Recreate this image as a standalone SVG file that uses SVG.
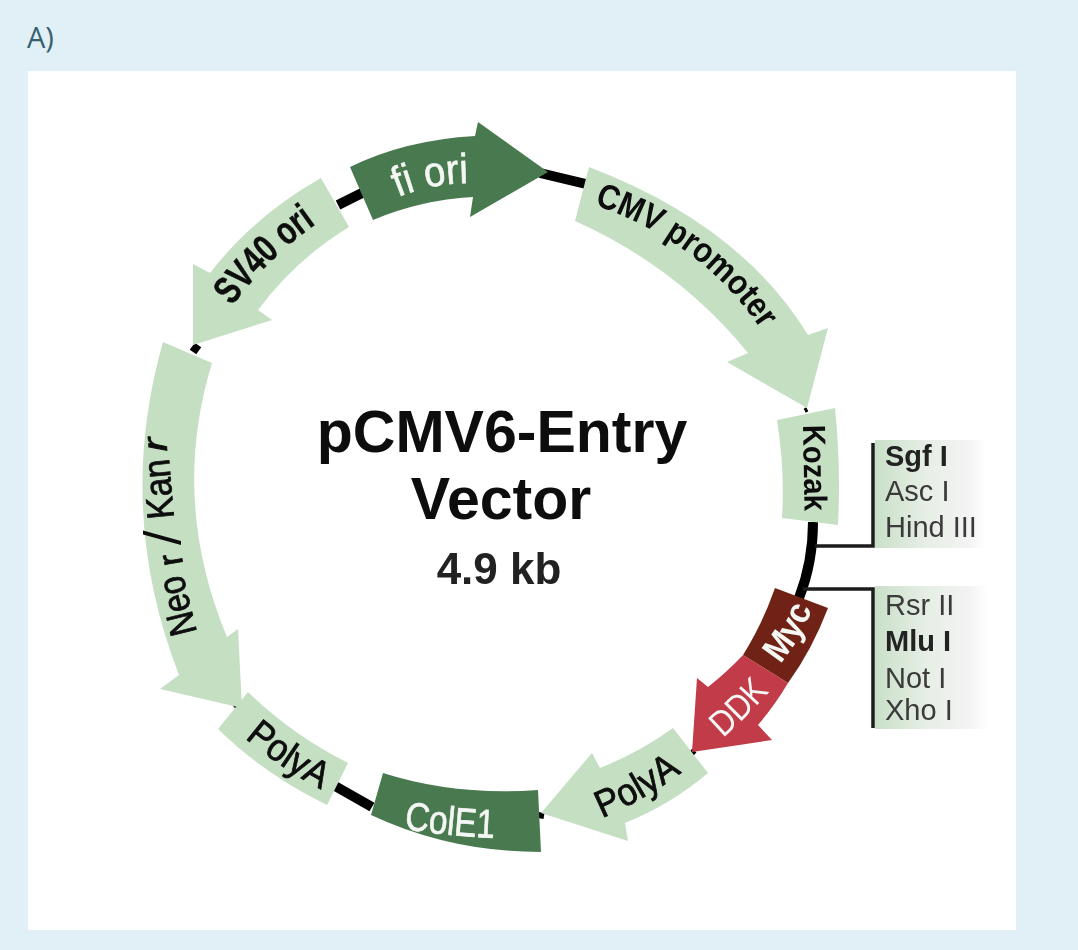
<svg xmlns="http://www.w3.org/2000/svg" width="1078" height="950" viewBox="0 0 1078 950">
<style>
text{font-family:"Liberation Sans",Arial,sans-serif}
.lg{fill:#c5dfc3}
.dg{fill:#4a7a50}
.k{fill:#0d0d0d;font-weight:700;stroke:none}
.t{fill:#0d0d0d;stroke:#0d0d0d;stroke-width:.8}
.w{fill:#f4f7f4;font-weight:700}
.e{font-size:29px;fill:#3a3a3a}
.b{font-weight:700;fill:#222}
.s{stroke:#1c1c1c;stroke-width:3.5;fill:none}
</style>
<defs>
<linearGradient id="fade"><stop offset="0" stop-color="#c9e0c8"/><stop offset=".45" stop-color="#e6eee5"/><stop offset=".85" stop-color="#f3f4f3"/><stop offset="1" stop-color="#fff"/></linearGradient>
<filter id="soft" x="-2%" y="-2%" width="104%" height="104%"><feGaussianBlur stdDeviation="0.6"/></filter>
<path id="pFi" d="M398,197 Q432,183 470,183"/>
<path id="pSv" d="M232,306 Q270,255 322,220"/>
<path id="pCmv" d="M594,205 Q705,242 766,337"/>
<path id="pPr" d="M602,818 Q645,800 682,772"/>
<path id="pCo" d="M404,829 Q448,836 495,838"/>
<path id="pPl" d="M245,738 Q280,768 322,790"/>
<path id="pMyc" d="M780,664 Q798,642 809,617"/>
<path id="pDdk" d="M723,738 Q748,716 771,690"/>
</defs>
<rect width="1078" height="950" fill="#e1f0f6"/>
<rect x="28" y="71" width="988" height="859" fill="#fff"/>
<text x="27" y="48" style="font-family:'Open Sans',sans-serif" font-size="29" fill="#35606f">A)</text>
<g filter="url(#soft)">
<g id="connectors" fill="none" stroke="#000">
<path d="M338,205 L362,193" stroke-width="10"/>
<path d="M540,173 L586,184" stroke-width="10"/>
<path d="M193,352 L198,345" stroke-width="8"/>
<path d="M335,786 L372,807" stroke-width="10"/>
<path d="M813,522 Q813,562 799,598" stroke-width="10"/>
<path d="M805,408 L807,412" stroke-width="3"/>
<path d="M538,815 L544,816" stroke-width="6"/>
<path d="M691,750 L695,754" stroke-width="4"/>
<path d="M234,704 L240,711" stroke-width="4"/>
<path class="s" d="M815,546 H873 V443"/>
<path class="s" d="M803,589 H873 V728"/>
</g>
<g id="site-panel-1">
<rect x="875" y="440" width="111" height="108" fill="url(#fade)"/>
<text class="e b" x="885" y="466">Sgf I</text>
<text class="e" x="885" y="501">Asc I</text>
<text class="e" x="885" y="537">Hind III</text>
</g>
<g id="site-panel-2">
<rect x="875" y="586" width="113" height="143" fill="url(#fade)"/>
<text class="e" x="885" y="615">Rsr II</text>
<text class="e b" x="885" y="651">Mlu I</text>
<text class="e" x="885" y="688">Not I</text>
<text class="e" x="885" y="720">Xho I</text>
</g>
<g id="fi-ori"><path class="dg" d="M350,167 Q405,140 475,136 L478,122 L548,172 L470,217 L473,197 Q420,200 373,220 Z"/>
<text class="w" font-size="42" style="font-weight:400;stroke:#f4f7f4;stroke-width:.7"><textPath href="#pFi" textLength="72" lengthAdjust="spacingAndGlyphs">fi ori</textPath></text></g>
<g id="sv40-ori"><path class="lg" d="M321,178 Q255,215 210,273 L193,264 L193,345 L272,320 L258,310 Q295,260 349,227 Z"/>
<text class="k" font-size="39" style="stroke:#0d0d0d;stroke-width:.5"><textPath href="#pSv" textLength="118" lengthAdjust="spacingAndGlyphs">SV40 ori</textPath></text></g>
<g id="cmv-promoter"><path class="lg" d="M589,167 Q741,225 808,335 L828,328 L807,408 L727,362 L748,353 Q678,267 575,221 Z"/>
<text class="k" font-size="35"><textPath href="#pCmv" textLength="212" lengthAdjust="spacingAndGlyphs">CMV promoter</textPath></text></g>
<g id="kozak"><path class="lg" d="M777,420 L835,408 Q841,467 838,525 L782,518 Q785,470 777,420 Z"/>
<text class="k" font-size="32" transform="translate(803,425) rotate(89)" textLength="86" lengthAdjust="spacingAndGlyphs">Kozak</text></g>
<g id="myc"><path fill="#6f2413" d="M775,588 L828,608 Q812,650 788,683 L743,655 Q762,625 775,588 Z"/>
<text class="w" font-size="36"><textPath href="#pMyc" textLength="64" lengthAdjust="spacingAndGlyphs">Myc</textPath></text></g>
<g id="ddk"><path fill="#c23a48" d="M743,655 L788,683 Q775,705 758,725 L772,740 L692,752 L697,678 L708,687 Q727,672 743,655 Z"/>
<text class="w" font-size="36" style="font-weight:400"><textPath href="#pDdk" textLength="66" lengthAdjust="spacingAndGlyphs">DDK</textPath></text></g>
<g id="polya-right"><path class="lg" d="M673,728 L708,773 Q670,805 625,823 L628,841 L541,813 L592,753 L600,768 Q640,752 673,728 Z"/>
<text class="t" font-size="38"><textPath href="#pPr" textLength="92" lengthAdjust="spacingAndGlyphs">PolyA</textPath></text></g>
<g id="cole1"><path class="dg" d="M383,773 Q455,796 538,790 L541,852 Q450,852 371,815 Z"/>
<text class="w" font-size="40" style="font-weight:400;stroke:#f4f7f4;stroke-width:.7"><textPath href="#pCo" textLength="91" lengthAdjust="spacingAndGlyphs">ColE1</textPath></text></g>
<g id="polya-left"><path class="lg" d="M248,692 Q292,735 348,763 L327,805 Q265,775 218,729 Z"/>
<text class="t" font-size="38"><textPath href="#pPl" textLength="92" lengthAdjust="spacingAndGlyphs">PolyA</textPath></text></g>
<g id="neo-kan"><path class="lg" d="M163,342 Q115,510 179,675 L160,689 L242,708 L238,629 L227,637 Q170,500 212,363 Z"/>
<text class="t" font-size="38" transform="translate(197,632) rotate(-104)" textLength="60" lengthAdjust="spacingAndGlyphs">Neo</text>
<text class="t" font-size="34" transform="translate(183,564) rotate(-100)" textLength="12" lengthAdjust="spacingAndGlyphs">r</text>
<text font-size="52" fill="#0d0d0d" transform="translate(181,545) rotate(-90)">/</text>
<text class="t" font-size="38" transform="translate(174,518) rotate(-95)" textLength="60" lengthAdjust="spacingAndGlyphs">Kan</text>
<text class="t" font-size="34" font-style="italic" transform="translate(167,451) rotate(-93)" textLength="14" lengthAdjust="spacingAndGlyphs">r</text></g>
<g id="title" text-anchor="middle" fill="#0a0a0a" font-weight="700">
<text x="502" y="452" font-size="59">pCMV6-Entry</text>
<text x="501" y="519" font-size="59">Vector</text>
<text x="499" y="584" font-size="44" fill="#222">4.9 kb</text>
</g>
</g>
</svg>
